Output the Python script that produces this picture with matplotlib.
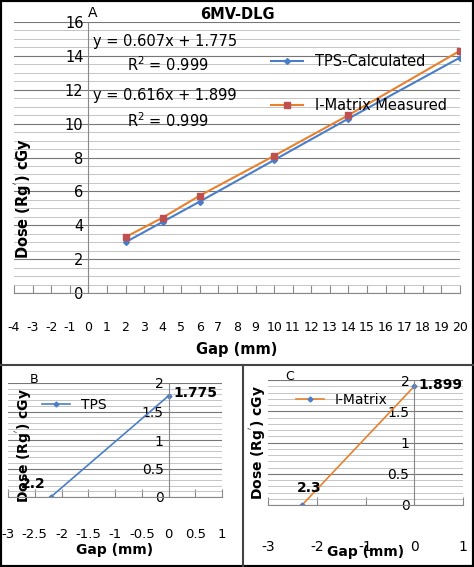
import numpy as np
import matplotlib.pyplot as plt

plt.rcParams["axes.unicode_minus"] = False

gap = [2, 4, 6, 10, 14, 20]
tps = [3.0, 4.2, 5.4, 7.85, 10.3, 13.9]
imatrix = [3.3, 4.45, 5.75, 8.1, 10.5, 14.3]
tps_int = [-2.2, 0]
tps_int_y = [0, 1.775]
im_int = [-2.3, 0]
im_int_y = [0, 1.899]

blue = "#4A7EC8"
orange = "#E8812E"
red = "#C0504D"

fig = plt.figure(figsize=(4.74, 5.67), dpi=100)
fig.patches.append(plt.Rectangle((0, 0), 1, 1, transform=fig.transFigure,
                                 fill=False, ec="black", lw=3))
fig.add_artist(plt.Line2D([0, 1], [1 - 365 / 567] * 2, color="#444", lw=1.5))
fig.add_artist(plt.Line2D([243 / 474] * 2, [0, 1 - 365 / 567], color="#444", lw=1.5))


def style(ax, minor):
    for s in ["top", "right"]:
        ax.spines[s].set_visible(False)
    ax.spines["left"].set_position(("data", 0))
    ax.spines["bottom"].set_position(("data", 0))
    for s in ["left", "bottom"]:
        ax.spines[s].set_color("#888")
    ax.set_yticks(np.arange(ax.get_ylim()[0], ax.get_ylim()[1] + 1e-9, minor), minor=True)
    ax.grid(True, which="major", axis="y", color="#777", lw=0.8)
    ax.grid(True, which="minor", axis="y", color="#bbb", lw=0.6)
    ax.tick_params(axis="y", which="both", length=0)
    ax.tick_params(axis="x", direction="in", length=6, color="#888")


# panel A
ax = fig.add_axes([14 / 474, 1 - 293 / 567, 446 / 474, 271 / 567])
ax.set_xlim(-4, 20)
ax.set_ylim(0, 16)
ax.set_xticks(range(-4, 21))
ax.set_yticks(range(0, 17, 2))
style(ax, 0.5)
ax.tick_params(axis="x", pad=20, labelsize=9)
ax.tick_params(axis="y", labelsize=10.5)
ax.plot(gap, tps, "-", color=blue, marker="D", ms=3, lw=1.5, label="TPS-Calculated")
ax.plot(gap, imatrix, "-", color=orange, marker="s", ms=4, mfc=red, mec=red, lw=1.5,
        label="I-Matrix Measured")
ax.text(0.25, 14.6, "y = 0.607x + 1.775", fontsize=10.5)
ax.text(2.1, 13.1, "R$^2$ = 0.999", fontsize=10.5)
ax.text(0.25, 11.4, "y = 0.616x + 1.899", fontsize=10.5)
ax.text(2.1, 9.8, "R$^2$ = 0.999", fontsize=10.5)
ax.text(0.5, 1.01, "6MV-DLG", transform=ax.transAxes, fontsize=10.5, fontweight="bold", ha="center")
ax.text(0.0, 16.3, "A", fontsize=10)
ax.legend(loc="upper right", bbox_to_anchor=(1.0, 0.93), frameon=False, fontsize=10.5,
          labelspacing=2.0, handlelength=2.2)
ax.set_xlabel("Gap (mm)", fontsize=10.5, fontweight="bold", labelpad=6)
ax.set_ylabel("Dose (Rg$^{'}$) cGy", fontsize=10.5, fontweight="bold")
ax.yaxis.set_label_coords(0.045, 0.35)

# panel B
bx = fig.add_axes([8 / 474, 1 - 497 / 567, 214 / 474, 114 / 567])
bx.set_xlim(-3, 1)
bx.set_ylim(0, 2)
bx.set_xticks(np.arange(-3, 1.01, 0.5))
bx.set_xticklabels(["-3", "-2.5", "-2", "-1.5", "-1", "-0.5", "0", "0.5", "1"])
bx.set_yticks([0, 0.5, 1, 1.5, 2])
bx.set_yticklabels(["0", "0.5", "1", "1.5", "2"])
style(bx, 0.1)
bx.tick_params(axis="x", pad=22, labelsize=9.5)
bx.tick_params(axis="y", labelsize=10)
bx.plot(tps_int, tps_int_y, "-", color=blue, marker="D", ms=2.5, lw=1.2, label="TPS")
bx.legend(loc="upper left", bbox_to_anchor=(0.1, 0.98), frameon=False, fontsize=10)
bx.text(-2.6, 2.0, "B", fontsize=9)
bx.text(0.1, 1.75, "1.775", fontsize=10, fontweight="bold")
bx.text(-2.75, 0.15, "2.2", fontsize=10, fontweight="bold")
bx.set_xlabel("Gap (mm)", fontsize=10, fontweight="bold", labelpad=2)
bx.set_ylabel("Dose (Rg$^{'}$) cGy", fontsize=10, fontweight="bold")
bx.yaxis.set_label_coords(0.12, 0.45)

# panel C
cx = fig.add_axes([268 / 474, 1 - 505 / 567, 195 / 474, 125 / 567])
cx.set_xlim(-3, 1)
cx.set_ylim(0, 2)
cx.set_xticks([-3, -2, -1, 0, 1])
cx.set_yticks([0, 0.5, 1, 1.5, 2])
cx.set_yticklabels(["0", "0.5", "1", "1.5", "2"])
style(cx, 0.1)
cx.tick_params(axis="x", pad=25, labelsize=10)
cx.tick_params(axis="y", labelsize=10)
cx.plot(im_int, im_int_y, "-", color=orange, marker="D", ms=2.5, mfc=blue, mec=blue,
        lw=1.2, label="I-Matrix")
cx.legend(loc="upper left", bbox_to_anchor=(0.08, 1.0), frameon=False, fontsize=10)
cx.text(-2.65, 2.0, "C", fontsize=9)
cx.text(0.08, 1.85, "1.899", fontsize=10, fontweight="bold")
cx.text(-2.4, 0.2, "2.3", fontsize=10, fontweight="bold")
cx.set_xlabel("Gap (mm)", fontsize=10, fontweight="bold", labelpad=-6)
cx.set_ylabel("Dose (Rg$^{'}$) cGy", fontsize=10, fontweight="bold")
cx.yaxis.set_label_coords(0.0, 0.5)

fig.savefig("out.png", dpi=100)
